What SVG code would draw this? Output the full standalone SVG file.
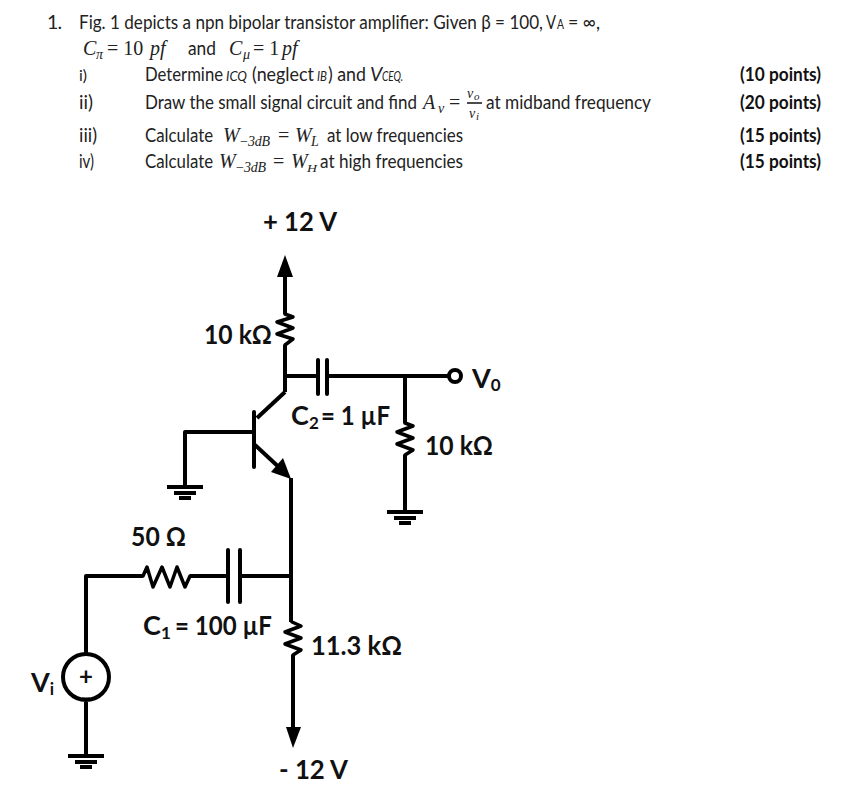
<svg xmlns="http://www.w3.org/2000/svg" width="867" height="791" viewBox="0 0 867 791">
<style>
.t{font-family:Lato,"Liberation Sans",sans-serif;font-size:19.5px;fill:#222}
.s{font-size:14px}
.b{font-family:Lato,"Liberation Sans",sans-serif;font-size:19.5px;font-weight:700;fill:#111}
.m{font-family:"Liberation Serif",serif;font-size:20px;font-style:italic;fill:#222}
.mn{font-family:"Liberation Serif",serif;font-size:20px;fill:#222}
.ms{font-family:"Liberation Serif",serif;font-size:14px;font-style:italic;fill:#222}
.mt{font-size:11px}
.l{font-family:Lato,"Liberation Sans",sans-serif;font-size:27px;font-weight:700;fill:#111}
.ls{font-size:17px}
.w{fill:none;stroke:#000;stroke-width:4;stroke-linejoin:round}
.r{fill:none;stroke:#000;stroke-width:3.5;stroke-linejoin:round;stroke-linecap:round}
.h{fill:#000;stroke:none}
</style>
<defs>
<g id="gnd" class="w"><path d="M-18 0H18M-11 6H11M-6 11H6"/></g>
</defs>
<g id="question">
<text class="t" x="47" y="29" textLength="15">1.</text>
<text class="t" x="79" y="29" textLength="464" lengthAdjust="spacingAndGlyphs">Fig. 1 depicts a npn bipolar transistor amplifier: Given β = 100,</text>
<text class="t" x="546" y="29" textLength="10" lengthAdjust="spacingAndGlyphs">V</text>
<text class="t s" x="557" y="29" textLength="7" lengthAdjust="spacingAndGlyphs">A</text>
<text class="t" x="568" y="29" textLength="32" lengthAdjust="spacingAndGlyphs">= ∞,</text>
<text class="m" x="83" y="55">C</text><text class="ms" x="96" y="59">π</text>
<text class="mn" x="107" y="55">= 10</text><text class="m" x="150" y="55">pf</text>
<text class="t" x="188" y="55" textLength="28" lengthAdjust="spacingAndGlyphs">and</text>
<text class="m" x="229" y="55">C</text><text class="ms" x="243" y="59">μ</text>
<text class="mn" x="253" y="55">= 1</text><text class="m" x="282" y="55">pf</text>
<text class="t" style="font-size:15px" x="79" y="81" textLength="8" lengthAdjust="spacingAndGlyphs">i)</text>
<text class="t" x="145" y="81" textLength="78" lengthAdjust="spacingAndGlyphs">Determine</text>
<text class="t s" x="226" y="81" font-style="italic" textLength="21" lengthAdjust="spacingAndGlyphs">ICQ</text>
<text class="t" x="252" y="81" textLength="62" lengthAdjust="spacingAndGlyphs">(neglect</text>
<text class="t s" x="317" y="81" font-style="italic" textLength="10" lengthAdjust="spacingAndGlyphs">IB</text>
<text class="t" x="328" y="81" textLength="38" lengthAdjust="spacingAndGlyphs">) and</text>
<text class="t" x="370" y="81" font-style="italic">V</text>
<text class="t s" x="382" y="81" font-style="italic" textLength="21" lengthAdjust="spacingAndGlyphs">CEQ.</text>
<text class="t" x="79" y="109" textLength="14" lengthAdjust="spacingAndGlyphs">ii)</text>
<text class="t" x="145" y="109" textLength="272" lengthAdjust="spacingAndGlyphs">Draw the small signal circuit and find</text>
<text class="m" x="423" y="109">A</text><text class="ms" x="438" y="113">v</text>
<text class="mn" x="449" y="109">=</text>
<text class="ms" x="467" y="98">v</text><text class="ms mt" x="474" y="100">o</text>
<path d="M467 103H482" stroke="#111" stroke-width="1.5"/>
<text class="ms" x="469" y="118">v</text><text class="ms mt" x="476" y="120">i</text>
<text class="t" x="486" y="109" textLength="165" lengthAdjust="spacingAndGlyphs">at midband frequency</text>
<text class="t" x="79" y="142" textLength="18" lengthAdjust="spacingAndGlyphs">iii)</text>
<text class="t" x="145" y="142" textLength="68" lengthAdjust="spacingAndGlyphs">Calculate</text>
<text class="m" x="223" y="142">W</text><text class="ms" x="239" y="146" textLength="31">−3dB</text>
<text class="mn" x="278" y="142">=</text>
<text class="m" x="295" y="142">W</text><text class="ms" x="311" y="146">L</text>
<text class="t" x="327" y="142" textLength="136" lengthAdjust="spacingAndGlyphs">at low frequencies</text>
<text class="t" x="79" y="168" textLength="15" lengthAdjust="spacingAndGlyphs">iv)</text>
<text class="t" x="145" y="168" textLength="68" lengthAdjust="spacingAndGlyphs">Calculate</text>
<text class="m" x="219" y="168">W</text><text class="ms" x="235" y="172" textLength="31">−3dB</text>
<text class="mn" x="273" y="168">=</text>
<text class="m" x="291" y="168">W</text><text class="ms mt" x="307" y="172" textLength="10" lengthAdjust="spacingAndGlyphs">H</text>
<text class="t" x="320" y="168" textLength="143" lengthAdjust="spacingAndGlyphs">at high frequencies</text>
<text class="b" x="740" y="81" textLength="81" lengthAdjust="spacingAndGlyphs">(10 points)</text>
<text class="b" x="740" y="109" textLength="81" lengthAdjust="spacingAndGlyphs">(20 points)</text>
<text class="b" x="740" y="142" textLength="81" lengthAdjust="spacingAndGlyphs">(15 points)</text>
<text class="b" x="740" y="168" textLength="81" lengthAdjust="spacingAndGlyphs">(15 points)</text>
</g>
<g id="connectors">
<path class="w" d="M285 270V314M285 345V392"/>
<path class="w" d="M285 376H318M327 376H449M405 376V423M405 455V512"/>
<path class="w" d="M253 432H185V487"/>
<path class="w" d="M291 478V622M293 655V730"/>
<path class="w" d="M291 576H240M228 576H190M143 576H86V654"/>
<path class="w" d="M86 702V756"/>
<path class="w" d="M285 392L257 418"/>
<path class="w" d="M255 445L283 471"/>
</g>
<g id="supply-plus"><path class="h" d="M285 255L293 277H277Z"/><text class="l" x="263" y="231" textLength="74" lengthAdjust="spacingAndGlyphs">+ 12 V</text></g>
<g id="supply-minus"><path class="h" d="M293 748L286 727H301Z"/><text class="l" x="279" y="779" textLength="69" lengthAdjust="spacingAndGlyphs">- 12 V</text></g>
<g id="rc"><path class="r" d="M285 314L293 317L277 322L293 328L277 334L293 339L285 345"/><text class="l" x="204" y="344" textLength="68" lengthAdjust="spacingAndGlyphs">10 kΩ</text></g>
<g id="c2"><path class="w" d="M318 360V394M327 360V394" stroke-linecap="round"/>
<text class="l" x="291" y="425">C<tspan class="ls" dy="4">2</tspan></text><text class="l" x="321" y="425" textLength="69" lengthAdjust="spacingAndGlyphs">= 1 µF</text></g>
<g id="vo"><circle cx="455" cy="376" r="6" fill="#fff" stroke="#000" stroke-width="4"/><text class="l" x="472" y="388">V<tspan class="ls" dy="3">0</tspan></text></g>
<g id="rl"><path class="r" d="M405 423L413 426L397 432L413 438L397 444L413 450L405 455"/><text class="l" x="425" y="455" textLength="68" lengthAdjust="spacingAndGlyphs">10 kΩ</text></g>
<g id="transistor"><path class="w" d="M254 412V467" stroke-linecap="round"/><path class="h" d="M291 479L271 472L283 458Z"/></g>
<g id="gnd-base"><use href="#gnd" x="185" y="487"/></g>
<g id="gnd-load"><use href="#gnd" x="405" y="512"/></g>
<g id="gnd-source"><use href="#gnd" x="86" y="756"/></g>
<g id="rs"><path class="r" d="M143 576L147 567L153 587L162 567L170 587L177 567L185 587L190 576"/><text class="l" x="131" y="546" textLength="55" lengthAdjust="spacingAndGlyphs">50 Ω</text></g>
<g id="c1"><path class="w" d="M228 550V602M240 550V602" stroke-linecap="round"/>
<text class="l" x="143" y="635">C<tspan class="ls" dy="4">1</tspan></text><text class="l" x="175" y="635" textLength="97" lengthAdjust="spacingAndGlyphs">= 100 µF</text></g>
<g id="re"><path class="r" d="M292 622L301 626L285 632L301 638L285 644L301 650L293 655"/><text class="l" x="311" y="655" textLength="91" lengthAdjust="spacingAndGlyphs">11.3 kΩ</text></g>
<g id="source"><circle cx="86" cy="677" r="23" fill="#fff" stroke="#000" stroke-width="4"/><path d="M82 699H90" stroke="#000" stroke-width="3"/><text class="b" style="font-size:24px" x="86" y="685" text-anchor="middle">+</text>
<text class="l" x="31" y="692">V<tspan class="ls" dy="3">i</tspan></text></g>
</svg>
